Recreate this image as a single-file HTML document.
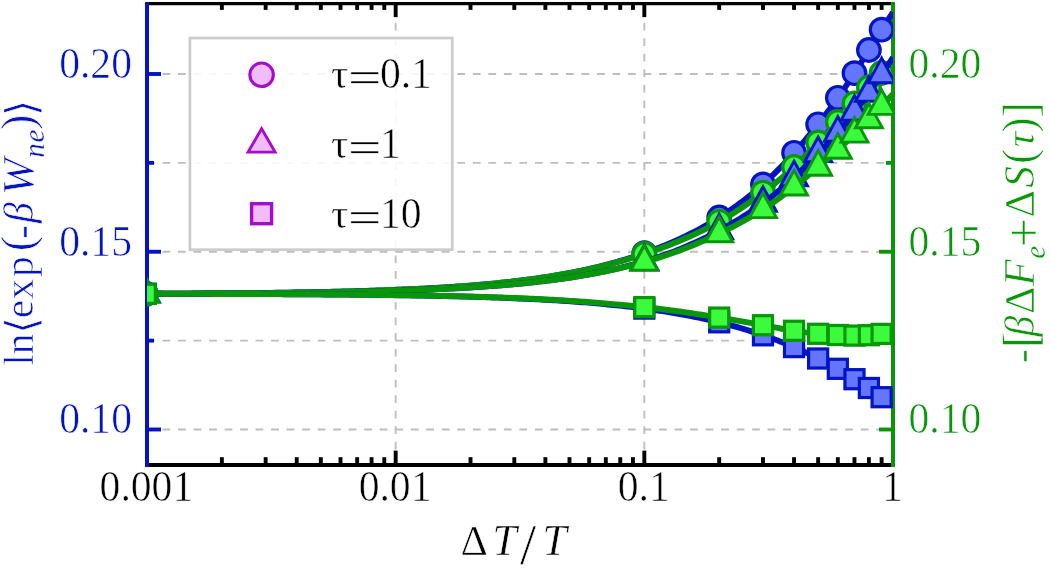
<!DOCTYPE html>
<html lang="en"><head><meta charset="utf-8"><title>Work relation vs temperature difference</title>
<style>html,body{margin:0;padding:0;background:#fff}svg{display:block}text{font-family:"Liberation Serif","DejaVu Serif",serif;stroke:#fff;stroke-width:0.6px}.s{stroke-width:0.3px}.i{font-style:italic}</style></head><body>
<svg width="1050" height="568" viewBox="0 0 1050 568">
<defs><clipPath id="ax"><rect x="147" y="3.6" width="746" height="461.4"/></clipPath></defs>
<rect width="1050" height="568" fill="#fff"/>
<g stroke="#bebebe" stroke-width="1.9" stroke-dasharray="7.75 7.766" fill="none">
<line x1="147" y1="429.5" x2="893" y2="429.5"/>
<line x1="147" y1="340.63" x2="893" y2="340.63"/>
<line x1="147" y1="251.75" x2="893" y2="251.75"/>
<line x1="147" y1="162.88" x2="893" y2="162.88"/>
<line x1="147" y1="74" x2="893" y2="74"/>
<line x1="395.67" y1="465" x2="395.67" y2="3.6"/>
<line x1="644.33" y1="465" x2="644.33" y2="3.6"/>
</g>
<g stroke="#000" fill="none">
<line x1="147" y1="3.6" x2="893" y2="3.6" stroke-width="3.4"/>
<line x1="147" y1="465" x2="893" y2="465" stroke-width="3.8"/>
<line x1="147" y1="3.6" x2="147" y2="17.1" stroke-width="3.9"/>
<line x1="147" y1="465" x2="147" y2="450.6" stroke-width="3.9"/>
<line x1="221.86" y1="3.6" x2="221.86" y2="9.9" stroke-width="3.9"/>
<line x1="221.86" y1="465" x2="221.86" y2="457.2" stroke-width="3.9"/>
<line x1="265.64" y1="3.6" x2="265.64" y2="9.9" stroke-width="3.9"/>
<line x1="265.64" y1="465" x2="265.64" y2="457.2" stroke-width="3.9"/>
<line x1="296.71" y1="3.6" x2="296.71" y2="9.9" stroke-width="3.9"/>
<line x1="296.71" y1="465" x2="296.71" y2="457.2" stroke-width="3.9"/>
<line x1="320.81" y1="3.6" x2="320.81" y2="9.9" stroke-width="3.9"/>
<line x1="320.81" y1="465" x2="320.81" y2="457.2" stroke-width="3.9"/>
<line x1="340.5" y1="3.6" x2="340.5" y2="9.9" stroke-width="3.9"/>
<line x1="340.5" y1="465" x2="340.5" y2="457.2" stroke-width="3.9"/>
<line x1="357.15" y1="3.6" x2="357.15" y2="9.9" stroke-width="3.9"/>
<line x1="357.15" y1="465" x2="357.15" y2="457.2" stroke-width="3.9"/>
<line x1="371.57" y1="3.6" x2="371.57" y2="9.9" stroke-width="3.9"/>
<line x1="371.57" y1="465" x2="371.57" y2="457.2" stroke-width="3.9"/>
<line x1="384.29" y1="3.6" x2="384.29" y2="9.9" stroke-width="3.9"/>
<line x1="384.29" y1="465" x2="384.29" y2="457.2" stroke-width="3.9"/>
<line x1="395.67" y1="3.6" x2="395.67" y2="17.1" stroke-width="3.9"/>
<line x1="395.67" y1="465" x2="395.67" y2="450.6" stroke-width="3.9"/>
<line x1="470.52" y1="3.6" x2="470.52" y2="9.9" stroke-width="3.9"/>
<line x1="470.52" y1="465" x2="470.52" y2="457.2" stroke-width="3.9"/>
<line x1="514.31" y1="3.6" x2="514.31" y2="9.9" stroke-width="3.9"/>
<line x1="514.31" y1="465" x2="514.31" y2="457.2" stroke-width="3.9"/>
<line x1="545.38" y1="3.6" x2="545.38" y2="9.9" stroke-width="3.9"/>
<line x1="545.38" y1="465" x2="545.38" y2="457.2" stroke-width="3.9"/>
<line x1="569.48" y1="3.6" x2="569.48" y2="9.9" stroke-width="3.9"/>
<line x1="569.48" y1="465" x2="569.48" y2="457.2" stroke-width="3.9"/>
<line x1="589.17" y1="3.6" x2="589.17" y2="9.9" stroke-width="3.9"/>
<line x1="589.17" y1="465" x2="589.17" y2="457.2" stroke-width="3.9"/>
<line x1="605.81" y1="3.6" x2="605.81" y2="9.9" stroke-width="3.9"/>
<line x1="605.81" y1="465" x2="605.81" y2="457.2" stroke-width="3.9"/>
<line x1="620.24" y1="3.6" x2="620.24" y2="9.9" stroke-width="3.9"/>
<line x1="620.24" y1="465" x2="620.24" y2="457.2" stroke-width="3.9"/>
<line x1="632.95" y1="3.6" x2="632.95" y2="9.9" stroke-width="3.9"/>
<line x1="632.95" y1="465" x2="632.95" y2="457.2" stroke-width="3.9"/>
<line x1="644.33" y1="3.6" x2="644.33" y2="17.1" stroke-width="3.9"/>
<line x1="644.33" y1="465" x2="644.33" y2="450.6" stroke-width="3.9"/>
<line x1="719.19" y1="3.6" x2="719.19" y2="9.9" stroke-width="3.9"/>
<line x1="719.19" y1="465" x2="719.19" y2="457.2" stroke-width="3.9"/>
<line x1="762.98" y1="3.6" x2="762.98" y2="9.9" stroke-width="3.9"/>
<line x1="762.98" y1="465" x2="762.98" y2="457.2" stroke-width="3.9"/>
<line x1="794.05" y1="3.6" x2="794.05" y2="9.9" stroke-width="3.9"/>
<line x1="794.05" y1="465" x2="794.05" y2="457.2" stroke-width="3.9"/>
<line x1="818.14" y1="3.6" x2="818.14" y2="9.9" stroke-width="3.9"/>
<line x1="818.14" y1="465" x2="818.14" y2="457.2" stroke-width="3.9"/>
<line x1="837.83" y1="3.6" x2="837.83" y2="9.9" stroke-width="3.9"/>
<line x1="837.83" y1="465" x2="837.83" y2="457.2" stroke-width="3.9"/>
<line x1="854.48" y1="3.6" x2="854.48" y2="9.9" stroke-width="3.9"/>
<line x1="854.48" y1="465" x2="854.48" y2="457.2" stroke-width="3.9"/>
<line x1="868.9" y1="3.6" x2="868.9" y2="9.9" stroke-width="3.9"/>
<line x1="868.9" y1="465" x2="868.9" y2="457.2" stroke-width="3.9"/>
<line x1="881.62" y1="3.6" x2="881.62" y2="9.9" stroke-width="3.9"/>
<line x1="881.62" y1="465" x2="881.62" y2="457.2" stroke-width="3.9"/>
<line x1="893" y1="3.6" x2="893" y2="17.1" stroke-width="3.9"/>
<line x1="893" y1="465" x2="893" y2="450.6" stroke-width="3.9"/>
</g>
<g stroke="#0414c2" fill="none">
<line x1="147" y1="1.9" x2="147" y2="466.9" stroke-width="4"/>
<line x1="147" y1="429.5" x2="161" y2="429.5" stroke-width="3.9"/>
<line x1="147" y1="251.75" x2="161" y2="251.75" stroke-width="3.9"/>
<line x1="147" y1="74" x2="161" y2="74" stroke-width="3.9"/>
<line x1="147" y1="340.63" x2="154" y2="340.63" stroke-width="3.9"/>
<line x1="147" y1="162.88" x2="154" y2="162.88" stroke-width="3.9"/>
</g>
<g stroke="#0a960a" fill="none">
<line x1="893" y1="429.5" x2="879" y2="429.5" stroke-width="3.9"/>
<line x1="893" y1="251.75" x2="879" y2="251.75" stroke-width="3.9"/>
<line x1="893" y1="74" x2="879" y2="74" stroke-width="3.9"/>
<line x1="893" y1="340.63" x2="886" y2="340.63" stroke-width="3.9"/>
<line x1="893" y1="162.88" x2="886" y2="162.88" stroke-width="3.9"/>
</g>
<line x1="893" y1="1.9" x2="893" y2="466.9" stroke="#0a960a" stroke-width="4"/>
<g clip-path="url(#ax)">
<path d="M145.8 293.8 L149.88 293.79 L152.76 293.78 L155.64 293.76 L158.52 293.75 L161.4 293.74 L164.28 293.72 L167.16 293.71 L170.04 293.7 L172.92 293.68 L175.8 293.67 L178.68 293.65 L181.56 293.64 L184.44 293.62 L187.32 293.6 L190.2 293.59 L193.08 293.57 L195.97 293.55 L198.85 293.53 L201.73 293.51 L204.61 293.49 L207.49 293.47 L210.37 293.45 L213.25 293.43 L216.13 293.41 L219.01 293.39 L221.89 293.36 L224.77 293.34 L227.65 293.32 L230.53 293.29 L233.41 293.27 L236.29 293.24 L239.17 293.21 L242.05 293.18 L244.93 293.16 L247.81 293.13 L250.69 293.1 L253.57 293.07 L256.45 293.03 L259.33 293 L262.21 292.97 L265.09 292.93 L267.97 292.9 L270.85 292.86 L273.73 292.83 L276.61 292.79 L279.49 292.75 L282.37 292.71 L285.25 292.67 L288.14 292.63 L291.02 292.58 L293.9 292.54 L296.78 292.49 L299.66 292.44 L302.54 292.4 L305.42 292.35 L308.3 292.3 L311.18 292.24 L314.06 292.19 L316.94 292.13 L319.82 292.08 L322.7 292.02 L325.58 291.96 L328.46 291.9 L331.34 291.84 L334.22 291.77 L337.1 291.7 L339.98 291.64 L342.86 291.57 L345.74 291.49 L348.62 291.42 L351.5 291.34 L354.38 291.27 L357.26 291.19 L360.14 291.1 L363.02 291.02 L365.9 290.93 L368.78 290.84 L371.66 290.75 L374.54 290.66 L377.42 290.56 L380.31 290.46 L383.19 290.36 L386.07 290.26 L388.95 290.15 L391.83 290.04 L394.71 289.93 L397.59 289.81 L400.47 289.7 L403.35 289.57 L406.23 289.45 L409.11 289.32 L411.99 289.19 L414.87 289.05 L417.75 288.91 L420.63 288.77 L423.51 288.62 L426.39 288.47 L429.27 288.32 L432.15 288.16 L435.03 288 L437.91 287.83 L440.79 287.66 L443.67 287.48 L446.55 287.3 L449.43 287.11 L452.31 286.92 L455.19 286.73 L458.07 286.53 L460.95 286.32 L463.83 286.11 L466.71 285.89 L469.59 285.67 L472.47 285.44 L475.36 285.21 L478.24 284.97 L481.12 284.72 L484 284.46 L486.88 284.2 L489.76 283.94 L492.64 283.66 L495.52 283.38 L498.4 283.09 L501.28 282.79 L504.16 282.49 L507.04 282.18 L509.92 281.86 L512.8 281.53 L515.68 281.19 L518.56 280.85 L521.44 280.49 L524.32 280.13 L527.2 279.75 L530.08 279.37 L532.96 278.98 L535.84 278.57 L538.72 278.16 L541.6 277.74 L544.48 277.3 L547.36 276.86 L550.24 276.4 L553.12 275.93 L556 275.45 L558.88 274.95 L561.76 274.45 L564.64 273.93 L567.53 273.4 L570.41 272.85 L573.29 272.29 L576.17 271.72 L579.05 271.13 L581.93 270.53 L584.81 269.91 L587.69 269.28 L590.57 268.63 L593.45 267.97 L596.33 267.28 L599.21 266.59 L602.09 265.87 L604.97 265.14 L607.85 264.39 L610.73 263.62 L613.61 262.84 L616.49 262.03 L619.37 261.21 L622.25 260.36 L625.13 259.5 L628.01 258.61 L630.89 257.71 L633.77 256.78 L636.65 255.84 L639.53 254.87 L642.41 253.87 L644.33 253.2 L645.29 252.86 L648.17 251.82 L651.05 250.76 L653.93 249.68 L656.81 248.57 L659.69 247.44 L662.58 246.29 L665.46 245.11 L668.34 243.9 L671.22 242.67 L674.1 241.41 L676.98 240.13 L679.86 238.81 L682.74 237.47 L685.62 236.09 L688.5 234.69 L691.38 233.25 L694.26 231.78 L697.14 230.28 L700.02 228.74 L702.9 227.16 L705.78 225.55 L708.66 223.9 L711.54 222.2 L714.42 220.47 L717.3 218.69 L719.19 217.5 L720.18 216.87 L723.06 215 L725.94 213.09 L728.82 211.15 L731.7 209.16 L734.58 207.12 L737.46 205.05 L740.34 202.92 L743.22 200.75 L746.1 198.52 L748.98 196.25 L751.86 193.92 L754.75 191.54 L757.63 189.1 L760.51 186.6 L762.98 184.4 L763.39 184.03 L766.27 181.4 L769.15 178.7 L772.03 175.93 L774.91 173.09 L777.79 170.19 L780.67 167.23 L783.55 164.21 L786.43 161.13 L789.31 158.01 L792.19 154.85 L794.05 152.8 L795.07 151.66 L797.95 148.43 L800.83 145.15 L803.71 141.82 L806.59 138.44 L809.47 135.01 L812.35 131.52 L815.23 127.97 L818.11 124.34 L818.14 124.3 L820.99 120.65 L823.87 116.89 L826.75 113.07 L829.63 109.19 L832.51 105.24 L835.39 101.24 L837.83 97.8 L838.27 97.17 L841.15 93.06 L844.03 88.88 L846.92 84.65 L849.8 80.35 L852.68 75.98 L854.48 73.2 L855.56 71.53 L858.44 66.97 L861.32 62.32 L864.2 57.63 L867.08 52.94 L868.9 50 L869.96 48.3 L872.84 43.67 L875.72 39.04 L878.6 34.45 L881.48 29.92 L881.62 29.7 L884.36 25.47 L887.24 21.06 L890.12 16.73 L893 12.5" fill="none" stroke="#0414c2" stroke-width="5.9" stroke-linejoin="round"/>
<circle cx="145.8" cy="293.8" r="11.3" fill="#6476ff" stroke="#0414c2" stroke-width="3.2"/>
<circle cx="644.33" cy="253.2" r="11.3" fill="#6476ff" stroke="#0414c2" stroke-width="3.2"/>
<circle cx="719.19" cy="217.5" r="11.3" fill="#6476ff" stroke="#0414c2" stroke-width="3.2"/>
<circle cx="762.98" cy="184.4" r="11.3" fill="#6476ff" stroke="#0414c2" stroke-width="3.2"/>
<circle cx="794.05" cy="152.8" r="11.3" fill="#6476ff" stroke="#0414c2" stroke-width="3.2"/>
<circle cx="818.14" cy="124.3" r="11.3" fill="#6476ff" stroke="#0414c2" stroke-width="3.2"/>
<circle cx="837.83" cy="97.8" r="11.3" fill="#6476ff" stroke="#0414c2" stroke-width="3.2"/>
<circle cx="854.48" cy="73.2" r="11.3" fill="#6476ff" stroke="#0414c2" stroke-width="3.2"/>
<circle cx="868.9" cy="50" r="11.3" fill="#6476ff" stroke="#0414c2" stroke-width="3.2"/>
<circle cx="881.62" cy="29.7" r="11.3" fill="#6476ff" stroke="#0414c2" stroke-width="3.2"/>
<path d="M145.8 293.8 L149.88 293.79 L152.76 293.78 L155.64 293.76 L158.52 293.75 L161.4 293.74 L164.28 293.72 L167.16 293.71 L170.04 293.7 L172.92 293.68 L175.8 293.67 L178.68 293.65 L181.56 293.63 L184.44 293.62 L187.32 293.6 L190.2 293.58 L193.08 293.57 L195.97 293.55 L198.85 293.53 L201.73 293.51 L204.61 293.49 L207.49 293.47 L210.37 293.45 L213.25 293.43 L216.13 293.4 L219.01 293.38 L221.89 293.36 L224.77 293.33 L227.65 293.31 L230.53 293.29 L233.41 293.26 L236.29 293.23 L239.17 293.21 L242.05 293.18 L244.93 293.15 L247.81 293.12 L250.69 293.09 L253.57 293.06 L256.45 293.03 L259.33 292.99 L262.21 292.96 L265.09 292.93 L267.97 292.89 L270.85 292.85 L273.73 292.82 L276.61 292.78 L279.49 292.74 L282.37 292.7 L285.25 292.66 L288.14 292.61 L291.02 292.57 L293.9 292.52 L296.78 292.48 L299.66 292.43 L302.54 292.38 L305.42 292.33 L308.3 292.28 L311.18 292.23 L314.06 292.17 L316.94 292.12 L319.82 292.06 L322.7 292 L325.58 291.94 L328.46 291.88 L331.34 291.82 L334.22 291.75 L337.1 291.68 L339.98 291.61 L342.86 291.54 L345.74 291.47 L348.62 291.4 L351.5 291.32 L354.38 291.24 L357.26 291.16 L360.14 291.08 L363.02 290.99 L365.9 290.91 L368.78 290.82 L371.66 290.72 L374.54 290.63 L377.42 290.53 L380.31 290.43 L383.19 290.33 L386.07 290.23 L388.95 290.12 L391.83 290.01 L394.71 289.9 L397.59 289.78 L400.47 289.66 L403.35 289.54 L406.23 289.41 L409.11 289.28 L411.99 289.15 L414.87 289.01 L417.75 288.87 L420.63 288.73 L423.51 288.58 L426.39 288.43 L429.27 288.27 L432.15 288.11 L435.03 287.95 L437.91 287.78 L440.79 287.61 L443.67 287.43 L446.55 287.25 L449.43 287.07 L452.31 286.88 L455.19 286.68 L458.07 286.48 L460.95 286.27 L463.83 286.06 L466.71 285.84 L469.59 285.62 L472.47 285.39 L475.36 285.15 L478.24 284.91 L481.12 284.67 L484 284.41 L486.88 284.15 L489.76 283.88 L492.64 283.61 L495.52 283.33 L498.4 283.04 L501.28 282.74 L504.16 282.44 L507.04 282.13 L509.92 281.81 L512.8 281.48 L515.68 281.15 L518.56 280.8 L521.44 280.45 L524.32 280.09 L527.2 279.72 L530.08 279.34 L532.96 278.95 L535.84 278.55 L538.72 278.14 L541.6 277.72 L544.48 277.29 L547.36 276.85 L550.24 276.39 L553.12 275.93 L556 275.45 L558.88 274.97 L561.76 274.47 L564.64 273.96 L567.53 273.44 L570.41 272.9 L573.29 272.35 L576.17 271.79 L579.05 271.21 L581.93 270.62 L584.81 270.02 L587.69 269.4 L590.57 268.77 L593.45 268.12 L596.33 267.46 L599.21 266.79 L602.09 266.09 L604.97 265.38 L607.85 264.66 L610.73 263.92 L613.61 263.16 L616.49 262.39 L619.37 261.6 L622.25 260.79 L625.13 259.96 L628.01 259.12 L630.89 258.26 L633.77 257.38 L636.65 256.48 L639.53 255.57 L642.41 254.63 L644.33 254 L645.29 253.68 L648.17 252.71 L651.05 251.72 L653.93 250.71 L656.81 249.69 L659.69 248.64 L662.58 247.58 L665.46 246.49 L668.34 245.39 L671.22 244.26 L674.1 243.11 L676.98 241.94 L679.86 240.75 L682.74 239.54 L685.62 238.3 L688.5 237.03 L691.38 235.74 L694.26 234.42 L697.14 233.08 L700.02 231.71 L702.9 230.3 L705.78 228.86 L708.66 227.39 L711.54 225.89 L714.42 224.34 L717.3 222.76 L719.19 221.7 L720.18 221.14 L723.06 219.47 L725.94 217.77 L728.82 216.03 L731.7 214.25 L734.58 212.44 L737.46 210.59 L740.34 208.7 L743.22 206.77 L746.1 204.81 L748.98 202.81 L751.86 200.77 L754.75 198.7 L757.63 196.6 L760.51 194.46 L762.98 192.6 L763.39 192.29 L766.27 190.1 L769.15 187.87 L772.03 185.62 L774.91 183.34 L777.79 181.02 L780.67 178.67 L783.55 176.26 L786.43 173.8 L789.31 171.29 L792.19 168.7 L794.05 167 L795.07 166.04 L797.95 163.29 L800.83 160.46 L803.71 157.56 L806.59 154.59 L809.47 151.59 L812.35 148.56 L815.23 145.53 L818.11 142.53 L818.14 142.5 L820.99 139.56 L823.87 136.6 L826.75 133.63 L829.63 130.65 L832.51 127.65 L835.39 124.61 L837.83 122 L838.27 121.52 L841.15 118.38 L844.03 115.19 L846.92 111.97 L849.8 108.74 L852.68 105.51 L854.48 103.5 L855.56 102.31 L858.44 99.12 L861.32 95.94 L864.2 92.75 L867.08 89.55 L868.9 87.5 L869.96 86.31 L872.84 83.04 L875.72 79.75 L878.6 76.46 L881.48 73.16 L881.62 73 L884.36 69.87 L887.24 66.57 L890.12 63.28 L893 60" fill="none" stroke="#0a960a" stroke-width="5.9" stroke-linejoin="round"/>
<circle cx="145.8" cy="293.8" r="11.3" fill="#3cfa3c" stroke="#0a960a" stroke-width="3.2"/>
<circle cx="644.33" cy="254" r="11.3" fill="#3cfa3c" stroke="#0a960a" stroke-width="3.2"/>
<circle cx="719.19" cy="221.7" r="11.3" fill="#3cfa3c" stroke="#0a960a" stroke-width="3.2"/>
<circle cx="762.98" cy="192.6" r="11.3" fill="#3cfa3c" stroke="#0a960a" stroke-width="3.2"/>
<circle cx="794.05" cy="167" r="11.3" fill="#3cfa3c" stroke="#0a960a" stroke-width="3.2"/>
<circle cx="818.14" cy="142.5" r="11.3" fill="#3cfa3c" stroke="#0a960a" stroke-width="3.2"/>
<circle cx="837.83" cy="122" r="11.3" fill="#3cfa3c" stroke="#0a960a" stroke-width="3.2"/>
<circle cx="854.48" cy="103.5" r="11.3" fill="#3cfa3c" stroke="#0a960a" stroke-width="3.2"/>
<circle cx="868.9" cy="87.5" r="11.3" fill="#3cfa3c" stroke="#0a960a" stroke-width="3.2"/>
<circle cx="881.62" cy="73" r="11.3" fill="#3cfa3c" stroke="#0a960a" stroke-width="3.2"/>
<path d="M145.8 293.8 L149.88 293.79 L152.76 293.78 L155.64 293.77 L158.52 293.76 L161.4 293.75 L164.28 293.74 L167.16 293.73 L170.04 293.72 L172.92 293.71 L175.8 293.7 L178.68 293.69 L181.56 293.67 L184.44 293.66 L187.32 293.65 L190.2 293.64 L193.08 293.62 L195.97 293.61 L198.85 293.59 L201.73 293.58 L204.61 293.56 L207.49 293.55 L210.37 293.53 L213.25 293.52 L216.13 293.5 L219.01 293.48 L221.89 293.47 L224.77 293.45 L227.65 293.43 L230.53 293.41 L233.41 293.39 L236.29 293.37 L239.17 293.35 L242.05 293.33 L244.93 293.31 L247.81 293.28 L250.69 293.26 L253.57 293.24 L256.45 293.21 L259.33 293.19 L262.21 293.16 L265.09 293.14 L267.97 293.11 L270.85 293.08 L273.73 293.05 L276.61 293.02 L279.49 292.99 L282.37 292.96 L285.25 292.93 L288.14 292.9 L291.02 292.86 L293.9 292.83 L296.78 292.8 L299.66 292.76 L302.54 292.72 L305.42 292.68 L308.3 292.64 L311.18 292.6 L314.06 292.56 L316.94 292.52 L319.82 292.48 L322.7 292.43 L325.58 292.39 L328.46 292.34 L331.34 292.29 L334.22 292.24 L337.1 292.19 L339.98 292.14 L342.86 292.08 L345.74 292.03 L348.62 291.97 L351.5 291.91 L354.38 291.85 L357.26 291.79 L360.14 291.73 L363.02 291.66 L365.9 291.6 L368.78 291.53 L371.66 291.46 L374.54 291.39 L377.42 291.31 L380.31 291.24 L383.19 291.16 L386.07 291.08 L388.95 290.99 L391.83 290.91 L394.71 290.82 L397.59 290.73 L400.47 290.64 L403.35 290.55 L406.23 290.45 L409.11 290.35 L411.99 290.25 L414.87 290.14 L417.75 290.04 L420.63 289.93 L423.51 289.81 L426.39 289.7 L429.27 289.58 L432.15 289.45 L435.03 289.33 L437.91 289.2 L440.79 289.07 L443.67 288.93 L446.55 288.79 L449.43 288.65 L452.31 288.5 L455.19 288.35 L458.07 288.19 L460.95 288.03 L463.83 287.87 L466.71 287.7 L469.59 287.53 L472.47 287.35 L475.36 287.16 L478.24 286.98 L481.12 286.79 L484 286.59 L486.88 286.38 L489.76 286.18 L492.64 285.96 L495.52 285.74 L498.4 285.52 L501.28 285.29 L504.16 285.05 L507.04 284.81 L509.92 284.56 L512.8 284.3 L515.68 284.03 L518.56 283.76 L521.44 283.49 L524.32 283.2 L527.2 282.91 L530.08 282.61 L532.96 282.3 L535.84 281.98 L538.72 281.66 L541.6 281.32 L544.48 280.98 L547.36 280.63 L550.24 280.27 L553.12 279.9 L556 279.51 L558.88 279.12 L561.76 278.72 L564.64 278.31 L567.53 277.89 L570.41 277.46 L573.29 277.01 L576.17 276.56 L579.05 276.09 L581.93 275.61 L584.81 275.11 L587.69 274.61 L590.57 274.09 L593.45 273.55 L596.33 273.01 L599.21 272.45 L602.09 271.87 L604.97 271.28 L607.85 270.67 L610.73 270.05 L613.61 269.42 L616.49 268.76 L619.37 268.09 L622.25 267.4 L625.13 266.69 L628.01 265.97 L630.89 265.23 L633.77 264.47 L636.65 263.68 L639.53 262.88 L642.41 262.06 L644.33 261.5 L645.29 261.22 L648.17 260.35 L651.05 259.46 L653.93 258.55 L656.81 257.61 L659.69 256.65 L662.58 255.66 L665.46 254.65 L668.34 253.6 L671.22 252.54 L674.1 251.44 L676.98 250.32 L679.86 249.17 L682.74 247.99 L685.62 246.79 L688.5 245.55 L691.38 244.29 L694.26 242.99 L697.14 241.67 L700.02 240.32 L702.9 238.94 L705.78 237.53 L708.66 236.09 L711.54 234.62 L714.42 233.13 L717.3 231.61 L719.19 230.6 L720.18 230.06 L723.06 228.49 L725.94 226.89 L728.82 225.26 L731.7 223.6 L734.58 221.91 L737.46 220.18 L740.34 218.42 L743.22 216.62 L746.1 214.79 L748.98 212.92 L751.86 211.01 L754.75 209.05 L757.63 207.05 L760.51 205 L762.98 203.2 L763.39 202.9 L766.27 200.75 L769.15 198.55 L772.03 196.3 L774.91 194.01 L777.79 191.66 L780.67 189.27 L783.55 186.83 L786.43 184.34 L789.31 181.79 L792.19 179.2 L794.05 177.5 L795.07 176.55 L797.95 173.83 L800.83 171.04 L803.71 168.19 L806.59 165.28 L809.47 162.34 L812.35 159.37 L815.23 156.39 L818.11 153.43 L818.14 153.4 L820.99 150.51 L823.87 147.61 L826.75 144.72 L829.63 141.81 L832.51 138.83 L835.39 135.74 L837.83 133 L838.27 132.49 L841.15 129.07 L844.03 125.51 L846.92 121.84 L849.8 118.1 L852.68 114.34 L854.48 112 L855.56 110.62 L858.44 106.92 L861.32 103.2 L864.2 99.45 L867.08 95.6 L868.9 93.1 L869.96 91.62 L872.84 87.5 L875.72 83.28 L878.6 79 L881.48 74.71 L881.62 74.5 L884.36 70.43 L887.24 66.14 L890.12 61.82 L893 57.5" fill="none" stroke="#0414c2" stroke-width="5.9" stroke-linejoin="round"/>
<polygon points="145.8,277.4 132.35,302 159.25,302" fill="#6476ff" stroke="#0414c2" stroke-width="2.9" stroke-linejoin="miter"/>
<polygon points="644.33,245.1 630.88,269.7 657.78,269.7" fill="#6476ff" stroke="#0414c2" stroke-width="2.9" stroke-linejoin="miter"/>
<polygon points="719.19,214.2 705.74,238.8 732.64,238.8" fill="#6476ff" stroke="#0414c2" stroke-width="2.9" stroke-linejoin="miter"/>
<polygon points="762.98,186.8 749.53,211.4 776.43,211.4" fill="#6476ff" stroke="#0414c2" stroke-width="2.9" stroke-linejoin="miter"/>
<polygon points="794.05,161.1 780.6,185.7 807.5,185.7" fill="#6476ff" stroke="#0414c2" stroke-width="2.9" stroke-linejoin="miter"/>
<polygon points="818.14,137 804.69,161.6 831.59,161.6" fill="#6476ff" stroke="#0414c2" stroke-width="2.9" stroke-linejoin="miter"/>
<polygon points="837.83,116.6 824.38,141.2 851.28,141.2" fill="#6476ff" stroke="#0414c2" stroke-width="2.9" stroke-linejoin="miter"/>
<polygon points="854.48,95.6 841.03,120.2 867.93,120.2" fill="#6476ff" stroke="#0414c2" stroke-width="2.9" stroke-linejoin="miter"/>
<polygon points="868.9,76.7 855.45,101.3 882.35,101.3" fill="#6476ff" stroke="#0414c2" stroke-width="2.9" stroke-linejoin="miter"/>
<polygon points="881.62,58.1 868.17,82.7 895.07,82.7" fill="#6476ff" stroke="#0414c2" stroke-width="2.9" stroke-linejoin="miter"/>
<path d="M145.8 293.8 L149.88 293.79 L152.76 293.78 L155.64 293.77 L158.52 293.76 L161.4 293.75 L164.28 293.74 L167.16 293.73 L170.04 293.72 L172.92 293.71 L175.8 293.7 L178.68 293.68 L181.56 293.67 L184.44 293.66 L187.32 293.65 L190.2 293.63 L193.08 293.62 L195.97 293.61 L198.85 293.59 L201.73 293.58 L204.61 293.56 L207.49 293.55 L210.37 293.53 L213.25 293.51 L216.13 293.5 L219.01 293.48 L221.89 293.46 L224.77 293.44 L227.65 293.42 L230.53 293.4 L233.41 293.38 L236.29 293.36 L239.17 293.34 L242.05 293.32 L244.93 293.3 L247.81 293.28 L250.69 293.25 L253.57 293.23 L256.45 293.21 L259.33 293.18 L262.21 293.15 L265.09 293.13 L267.97 293.1 L270.85 293.07 L273.73 293.04 L276.61 293.01 L279.49 292.98 L282.37 292.95 L285.25 292.92 L288.14 292.89 L291.02 292.85 L293.9 292.82 L296.78 292.78 L299.66 292.75 L302.54 292.71 L305.42 292.67 L308.3 292.63 L311.18 292.59 L314.06 292.55 L316.94 292.51 L319.82 292.46 L322.7 292.42 L325.58 292.37 L328.46 292.32 L331.34 292.27 L334.22 292.22 L337.1 292.17 L339.98 292.12 L342.86 292.06 L345.74 292.01 L348.62 291.95 L351.5 291.89 L354.38 291.83 L357.26 291.77 L360.14 291.7 L363.02 291.64 L365.9 291.57 L368.78 291.5 L371.66 291.43 L374.54 291.36 L377.42 291.28 L380.31 291.21 L383.19 291.13 L386.07 291.05 L388.95 290.96 L391.83 290.88 L394.71 290.79 L397.59 290.7 L400.47 290.61 L403.35 290.51 L406.23 290.42 L409.11 290.32 L411.99 290.21 L414.87 290.11 L417.75 290 L420.63 289.89 L423.51 289.77 L426.39 289.66 L429.27 289.54 L432.15 289.41 L435.03 289.29 L437.91 289.16 L440.79 289.02 L443.67 288.88 L446.55 288.74 L449.43 288.6 L452.31 288.45 L455.19 288.3 L458.07 288.14 L460.95 287.98 L463.83 287.82 L466.71 287.65 L469.59 287.47 L472.47 287.3 L475.36 287.11 L478.24 286.92 L481.12 286.73 L484 286.53 L486.88 286.33 L489.76 286.12 L492.64 285.91 L495.52 285.69 L498.4 285.46 L501.28 285.23 L504.16 285 L507.04 284.75 L509.92 284.5 L512.8 284.25 L515.68 283.98 L518.56 283.71 L521.44 283.44 L524.32 283.15 L527.2 282.86 L530.08 282.56 L532.96 282.25 L535.84 281.94 L538.72 281.62 L541.6 281.28 L544.48 280.94 L547.36 280.6 L550.24 280.24 L553.12 279.87 L556 279.49 L558.88 279.11 L561.76 278.71 L564.64 278.31 L567.53 277.89 L570.41 277.46 L573.29 277.02 L576.17 276.58 L579.05 276.11 L581.93 275.64 L584.81 275.16 L587.69 274.66 L590.57 274.15 L593.45 273.63 L596.33 273.1 L599.21 272.55 L602.09 271.99 L604.97 271.41 L607.85 270.83 L610.73 270.22 L613.61 269.6 L616.49 268.97 L619.37 268.32 L622.25 267.66 L625.13 266.97 L628.01 266.28 L630.89 265.56 L633.77 264.83 L636.65 264.08 L639.53 263.32 L642.41 262.53 L644.33 262 L645.29 261.73 L648.17 260.91 L651.05 260.06 L653.93 259.2 L656.81 258.32 L659.69 257.41 L662.58 256.48 L665.46 255.53 L668.34 254.56 L671.22 253.56 L674.1 252.54 L676.98 251.5 L679.86 250.43 L682.74 249.34 L685.62 248.23 L688.5 247.09 L691.38 245.93 L694.26 244.74 L697.14 243.53 L700.02 242.3 L702.9 241.04 L705.78 239.76 L708.66 238.45 L711.54 237.13 L714.42 235.78 L717.3 234.41 L719.19 233.5 L720.18 233.02 L723.06 231.61 L725.94 230.18 L728.82 228.73 L731.7 227.26 L734.58 225.77 L737.46 224.25 L740.34 222.71 L743.22 221.14 L746.1 219.54 L748.98 217.9 L751.86 216.23 L754.75 214.53 L757.63 212.78 L760.51 210.98 L762.98 209.4 L763.39 209.13 L766.27 207.24 L769.15 205.29 L772.03 203.29 L774.91 201.25 L777.79 199.17 L780.67 197.05 L783.55 194.89 L786.43 192.7 L789.31 190.49 L792.19 188.25 L794.05 186.8 L795.07 186 L797.95 183.72 L800.83 181.4 L803.71 179.06 L806.59 176.69 L809.47 174.3 L812.35 171.89 L815.23 169.46 L818.11 167.03 L818.14 167 L820.99 164.59 L823.87 162.16 L826.75 159.72 L829.63 157.25 L832.51 154.76 L835.39 152.21 L837.83 150 L838.27 149.59 L841.15 146.9 L844.03 144.15 L846.92 141.35 L849.8 138.52 L852.68 135.68 L854.48 133.9 L855.56 132.85 L858.44 130.02 L861.32 127.19 L864.2 124.34 L867.08 121.46 L868.9 119.6 L869.96 118.51 L872.84 115.52 L875.72 112.48 L878.6 109.42 L881.48 106.35 L881.62 106.2 L884.36 103.28 L887.24 100.19 L890.12 97.1 L893 94" fill="none" stroke="#0a960a" stroke-width="5.9" stroke-linejoin="round"/>
<polygon points="145.8,277.4 132.35,302 159.25,302" fill="#3cfa3c" stroke="#0a960a" stroke-width="2.9" stroke-linejoin="miter"/>
<polygon points="644.33,245.6 630.88,270.2 657.78,270.2" fill="#3cfa3c" stroke="#0a960a" stroke-width="2.9" stroke-linejoin="miter"/>
<polygon points="719.19,217.1 705.74,241.7 732.64,241.7" fill="#3cfa3c" stroke="#0a960a" stroke-width="2.9" stroke-linejoin="miter"/>
<polygon points="762.98,193 749.53,217.6 776.43,217.6" fill="#3cfa3c" stroke="#0a960a" stroke-width="2.9" stroke-linejoin="miter"/>
<polygon points="794.05,170.4 780.6,195 807.5,195" fill="#3cfa3c" stroke="#0a960a" stroke-width="2.9" stroke-linejoin="miter"/>
<polygon points="818.14,150.6 804.69,175.2 831.59,175.2" fill="#3cfa3c" stroke="#0a960a" stroke-width="2.9" stroke-linejoin="miter"/>
<polygon points="837.83,133.6 824.38,158.2 851.28,158.2" fill="#3cfa3c" stroke="#0a960a" stroke-width="2.9" stroke-linejoin="miter"/>
<polygon points="854.48,117.5 841.03,142.1 867.93,142.1" fill="#3cfa3c" stroke="#0a960a" stroke-width="2.9" stroke-linejoin="miter"/>
<polygon points="868.9,103.2 855.45,127.8 882.35,127.8" fill="#3cfa3c" stroke="#0a960a" stroke-width="2.9" stroke-linejoin="miter"/>
<polygon points="881.62,89.8 868.17,114.4 895.07,114.4" fill="#3cfa3c" stroke="#0a960a" stroke-width="2.9" stroke-linejoin="miter"/>
<path d="M145.8 293.8 L149.88 293.8 L152.76 293.81 L155.64 293.81 L158.52 293.82 L161.4 293.82 L164.28 293.83 L167.16 293.83 L170.04 293.84 L172.92 293.84 L175.8 293.85 L178.68 293.85 L181.56 293.86 L184.44 293.86 L187.32 293.87 L190.2 293.88 L193.08 293.88 L195.97 293.89 L198.85 293.9 L201.73 293.9 L204.61 293.91 L207.49 293.92 L210.37 293.92 L213.25 293.93 L216.13 293.94 L219.01 293.95 L221.89 293.96 L224.77 293.96 L227.65 293.97 L230.53 293.98 L233.41 293.99 L236.29 294 L239.17 294.01 L242.05 294.02 L244.93 294.03 L247.81 294.04 L250.69 294.05 L253.57 294.06 L256.45 294.07 L259.33 294.08 L262.21 294.1 L265.09 294.11 L267.97 294.12 L270.85 294.13 L273.73 294.15 L276.61 294.16 L279.49 294.17 L282.37 294.19 L285.25 294.2 L288.14 294.22 L291.02 294.23 L293.9 294.25 L296.78 294.27 L299.66 294.28 L302.54 294.3 L305.42 294.32 L308.3 294.34 L311.18 294.36 L314.06 294.37 L316.94 294.39 L319.82 294.41 L322.7 294.44 L325.58 294.46 L328.46 294.48 L331.34 294.5 L334.22 294.52 L337.1 294.55 L339.98 294.57 L342.86 294.6 L345.74 294.62 L348.62 294.65 L351.5 294.68 L354.38 294.7 L357.26 294.73 L360.14 294.76 L363.02 294.79 L365.9 294.82 L368.78 294.86 L371.66 294.89 L374.54 294.92 L377.42 294.96 L380.31 294.99 L383.19 295.03 L386.07 295.06 L388.95 295.1 L391.83 295.14 L394.71 295.18 L397.59 295.22 L400.47 295.27 L403.35 295.31 L406.23 295.36 L409.11 295.4 L411.99 295.45 L414.87 295.5 L417.75 295.55 L420.63 295.6 L423.51 295.65 L426.39 295.7 L429.27 295.76 L432.15 295.82 L435.03 295.88 L437.91 295.94 L440.79 296 L443.67 296.06 L446.55 296.13 L449.43 296.19 L452.31 296.26 L455.19 296.33 L458.07 296.4 L460.95 296.48 L463.83 296.55 L466.71 296.63 L469.59 296.71 L472.47 296.79 L475.36 296.88 L478.24 296.96 L481.12 297.05 L484 297.14 L486.88 297.24 L489.76 297.33 L492.64 297.43 L495.52 297.53 L498.4 297.64 L501.28 297.74 L504.16 297.85 L507.04 297.97 L509.92 298.08 L512.8 298.2 L515.68 298.32 L518.56 298.45 L521.44 298.58 L524.32 298.71 L527.2 298.84 L530.08 298.98 L532.96 299.12 L535.84 299.27 L538.72 299.42 L541.6 299.57 L544.48 299.73 L547.36 299.89 L550.24 300.06 L553.12 300.23 L556 300.4 L558.88 300.58 L561.76 300.77 L564.64 300.95 L567.53 301.15 L570.41 301.35 L573.29 301.55 L576.17 301.76 L579.05 301.97 L581.93 302.19 L584.81 302.42 L587.69 302.65 L590.57 302.89 L593.45 303.13 L596.33 303.38 L599.21 303.64 L602.09 303.9 L604.97 304.17 L607.85 304.45 L610.73 304.73 L613.61 305.02 L616.49 305.32 L619.37 305.62 L622.25 305.93 L625.13 306.25 L628.01 306.58 L630.89 306.92 L633.77 307.26 L636.65 307.62 L639.53 307.98 L642.41 308.35 L644.33 308.6 L645.29 308.73 L648.17 309.12 L651.05 309.51 L653.93 309.92 L656.81 310.34 L659.69 310.77 L662.58 311.2 L665.46 311.65 L668.34 312.11 L671.22 312.58 L674.1 313.06 L676.98 313.55 L679.86 314.06 L682.74 314.57 L685.62 315.1 L688.5 315.64 L691.38 316.2 L694.26 316.76 L697.14 317.34 L700.02 317.94 L702.9 318.55 L705.78 319.17 L708.66 319.82 L711.54 320.47 L714.42 321.15 L717.3 321.84 L719.19 322.3 L720.18 322.55 L723.06 323.27 L725.94 324.02 L728.82 324.79 L731.7 325.57 L734.58 326.37 L737.46 327.2 L740.34 328.04 L743.22 328.9 L746.1 329.78 L748.98 330.68 L751.86 331.6 L754.75 332.53 L757.63 333.49 L760.51 334.46 L762.98 335.3 L763.39 335.44 L766.27 336.44 L769.15 337.45 L772.03 338.49 L774.91 339.54 L777.79 340.6 L780.67 341.69 L783.55 342.81 L786.43 343.95 L789.31 345.11 L792.19 346.31 L794.05 347.1 L795.07 347.54 L797.95 348.81 L800.83 350.11 L803.71 351.45 L806.59 352.81 L809.47 354.2 L812.35 355.62 L815.23 357.04 L818.11 358.48 L818.14 358.5 L820.99 359.93 L823.87 361.38 L826.75 362.84 L829.63 364.33 L832.51 365.85 L835.39 367.42 L837.83 368.8 L838.27 369.05 L841.15 370.77 L844.03 372.55 L846.92 374.38 L849.8 376.23 L852.68 378.07 L854.48 379.2 L855.56 379.86 L858.44 381.59 L861.32 383.3 L864.2 385.03 L867.08 386.81 L868.9 388 L869.96 388.71 L872.84 390.73 L875.72 392.83 L878.6 394.97 L881.48 397.1 L881.62 397.2 L884.36 399.19 L887.24 401.3 L890.12 403.4 L893 405.5" fill="none" stroke="#0414c2" stroke-width="5.9" stroke-linejoin="round"/>
<rect x="136.25" y="284.25" width="19.1" height="19.1" fill="#6476ff" stroke="#0414c2" stroke-width="3.2"/>
<rect x="634.78" y="299.05" width="19.1" height="19.1" fill="#6476ff" stroke="#0414c2" stroke-width="3.2"/>
<rect x="709.64" y="312.75" width="19.1" height="19.1" fill="#6476ff" stroke="#0414c2" stroke-width="3.2"/>
<rect x="753.43" y="325.75" width="19.1" height="19.1" fill="#6476ff" stroke="#0414c2" stroke-width="3.2"/>
<rect x="784.5" y="337.55" width="19.1" height="19.1" fill="#6476ff" stroke="#0414c2" stroke-width="3.2"/>
<rect x="808.59" y="348.95" width="19.1" height="19.1" fill="#6476ff" stroke="#0414c2" stroke-width="3.2"/>
<rect x="828.28" y="359.25" width="19.1" height="19.1" fill="#6476ff" stroke="#0414c2" stroke-width="3.2"/>
<rect x="844.93" y="369.65" width="19.1" height="19.1" fill="#6476ff" stroke="#0414c2" stroke-width="3.2"/>
<rect x="859.35" y="378.45" width="19.1" height="19.1" fill="#6476ff" stroke="#0414c2" stroke-width="3.2"/>
<rect x="872.07" y="387.65" width="19.1" height="19.1" fill="#6476ff" stroke="#0414c2" stroke-width="3.2"/>
<path d="M145.8 293.8 L149.88 293.8 L152.76 293.81 L155.64 293.81 L158.52 293.82 L161.4 293.82 L164.28 293.83 L167.16 293.83 L170.04 293.84 L172.92 293.84 L175.8 293.85 L178.68 293.85 L181.56 293.86 L184.44 293.86 L187.32 293.87 L190.2 293.87 L193.08 293.88 L195.97 293.89 L198.85 293.89 L201.73 293.9 L204.61 293.9 L207.49 293.91 L210.37 293.92 L213.25 293.93 L216.13 293.93 L219.01 293.94 L221.89 293.95 L224.77 293.96 L227.65 293.97 L230.53 293.97 L233.41 293.98 L236.29 293.99 L239.17 294 L242.05 294.01 L244.93 294.02 L247.81 294.03 L250.69 294.04 L253.57 294.05 L256.45 294.06 L259.33 294.07 L262.21 294.08 L265.09 294.1 L267.97 294.11 L270.85 294.12 L273.73 294.13 L276.61 294.14 L279.49 294.16 L282.37 294.17 L285.25 294.19 L288.14 294.2 L291.02 294.22 L293.9 294.23 L296.78 294.25 L299.66 294.26 L302.54 294.28 L305.42 294.3 L308.3 294.31 L311.18 294.33 L314.06 294.35 L316.94 294.37 L319.82 294.39 L322.7 294.41 L325.58 294.43 L328.46 294.45 L331.34 294.47 L334.22 294.49 L337.1 294.51 L339.98 294.54 L342.86 294.56 L345.74 294.59 L348.62 294.61 L351.5 294.64 L354.38 294.66 L357.26 294.69 L360.14 294.72 L363.02 294.75 L365.9 294.78 L368.78 294.81 L371.66 294.84 L374.54 294.87 L377.42 294.9 L380.31 294.94 L383.19 294.97 L386.07 295.01 L388.95 295.04 L391.83 295.08 L394.71 295.12 L397.59 295.16 L400.47 295.2 L403.35 295.24 L406.23 295.28 L409.11 295.32 L411.99 295.37 L414.87 295.41 L417.75 295.46 L420.63 295.51 L423.51 295.56 L426.39 295.61 L429.27 295.66 L432.15 295.72 L435.03 295.77 L437.91 295.83 L440.79 295.89 L443.67 295.95 L446.55 296.01 L449.43 296.07 L452.31 296.13 L455.19 296.2 L458.07 296.27 L460.95 296.34 L463.83 296.41 L466.71 296.48 L469.59 296.56 L472.47 296.63 L475.36 296.71 L478.24 296.79 L481.12 296.88 L484 296.96 L486.88 297.05 L489.76 297.14 L492.64 297.23 L495.52 297.33 L498.4 297.42 L501.28 297.52 L504.16 297.63 L507.04 297.73 L509.92 297.84 L512.8 297.95 L515.68 298.06 L518.56 298.18 L521.44 298.29 L524.32 298.42 L527.2 298.54 L530.08 298.67 L532.96 298.8 L535.84 298.93 L538.72 299.07 L541.6 299.21 L544.48 299.36 L547.36 299.5 L550.24 299.66 L553.12 299.81 L556 299.97 L558.88 300.13 L561.76 300.3 L564.64 300.47 L567.53 300.65 L570.41 300.82 L573.29 301.01 L576.17 301.2 L579.05 301.39 L581.93 301.59 L584.81 301.79 L587.69 301.99 L590.57 302.2 L593.45 302.42 L596.33 302.64 L599.21 302.87 L602.09 303.1 L604.97 303.33 L607.85 303.57 L610.73 303.82 L613.61 304.07 L616.49 304.33 L619.37 304.59 L622.25 304.86 L625.13 305.13 L628.01 305.41 L630.89 305.7 L633.77 305.99 L636.65 306.28 L639.53 306.58 L642.41 306.89 L644.33 307.1 L645.29 307.21 L648.17 307.53 L651.05 307.85 L653.93 308.19 L656.81 308.53 L659.69 308.88 L662.58 309.24 L665.46 309.6 L668.34 309.97 L671.22 310.35 L674.1 310.74 L676.98 311.13 L679.86 311.53 L682.74 311.94 L685.62 312.36 L688.5 312.78 L691.38 313.21 L694.26 313.64 L697.14 314.08 L700.02 314.53 L702.9 314.98 L705.78 315.43 L708.66 315.89 L711.54 316.36 L714.42 316.82 L717.3 317.29 L719.19 317.6 L720.18 317.76 L723.06 318.24 L725.94 318.72 L728.82 319.2 L731.7 319.69 L734.58 320.18 L737.46 320.68 L740.34 321.18 L743.22 321.68 L746.1 322.19 L748.98 322.7 L751.86 323.21 L754.75 323.73 L757.63 324.24 L760.51 324.76 L762.98 325.2 L763.39 325.27 L766.27 325.8 L769.15 326.33 L772.03 326.88 L774.91 327.42 L777.79 327.97 L780.67 328.51 L783.55 329.05 L786.43 329.56 L789.31 330.06 L792.19 330.52 L794.05 330.8 L795.07 330.95 L797.95 331.36 L800.83 331.77 L803.71 332.17 L806.59 332.55 L809.47 332.91 L812.35 333.25 L815.23 333.54 L818.11 333.8 L818.14 333.8 L820.99 334.02 L823.87 334.22 L826.75 334.41 L829.63 334.58 L832.51 334.74 L835.39 334.89 L837.83 335 L838.27 335.02 L841.15 335.15 L844.03 335.29 L846.92 335.42 L849.8 335.52 L852.68 335.59 L854.48 335.6 L855.56 335.6 L858.44 335.56 L861.32 335.49 L864.2 335.4 L867.08 335.28 L868.9 335.2 L869.96 335.15 L872.84 334.93 L875.72 334.64 L878.6 334.29 L881.48 333.92 L881.62 333.9 L884.36 333.52 L887.24 333.07 L890.12 332.56 L893 332" fill="none" stroke="#0a960a" stroke-width="5.9" stroke-linejoin="round"/>
<rect x="136.25" y="284.25" width="19.1" height="19.1" fill="#3cfa3c" stroke="#0a960a" stroke-width="3.2"/>
<rect x="634.78" y="297.55" width="19.1" height="19.1" fill="#3cfa3c" stroke="#0a960a" stroke-width="3.2"/>
<rect x="709.64" y="308.05" width="19.1" height="19.1" fill="#3cfa3c" stroke="#0a960a" stroke-width="3.2"/>
<rect x="753.43" y="315.65" width="19.1" height="19.1" fill="#3cfa3c" stroke="#0a960a" stroke-width="3.2"/>
<rect x="784.5" y="321.25" width="19.1" height="19.1" fill="#3cfa3c" stroke="#0a960a" stroke-width="3.2"/>
<rect x="808.59" y="324.25" width="19.1" height="19.1" fill="#3cfa3c" stroke="#0a960a" stroke-width="3.2"/>
<rect x="828.28" y="325.45" width="19.1" height="19.1" fill="#3cfa3c" stroke="#0a960a" stroke-width="3.2"/>
<rect x="844.93" y="326.05" width="19.1" height="19.1" fill="#3cfa3c" stroke="#0a960a" stroke-width="3.2"/>
<rect x="859.35" y="325.65" width="19.1" height="19.1" fill="#3cfa3c" stroke="#0a960a" stroke-width="3.2"/>
<rect x="872.07" y="324.35" width="19.1" height="19.1" fill="#3cfa3c" stroke="#0a960a" stroke-width="3.2"/>
</g>
<text transform="translate(146.4 500.8) scale(0.942 1)" font-size="44.2" text-anchor="middle" fill="#000">0.001</text>
<text transform="translate(395.07 500.8) scale(0.942 1)" font-size="44.2" text-anchor="middle" fill="#000">0.01</text>
<text transform="translate(643.73 500.8) scale(0.942 1)" font-size="44.2" text-anchor="middle" fill="#000">0.1</text>
<text transform="translate(892.4 500.8) scale(0.942 1)" font-size="44.2" text-anchor="middle" fill="#000">1</text>
<text transform="translate(132 77.8) scale(0.942 1)" font-size="44.2" text-anchor="end" fill="#0414c2">0.20</text>
<text transform="translate(908.5 77.8) scale(0.942 1)" font-size="44.2" fill="#0a960a">0.20</text>
<text transform="translate(132 255.55) scale(0.942 1)" font-size="44.2" text-anchor="end" fill="#0414c2">0.15</text>
<text transform="translate(908.5 255.55) scale(0.942 1)" font-size="44.2" fill="#0a960a">0.15</text>
<text transform="translate(132 433.3) scale(0.942 1)" font-size="44.2" text-anchor="end" fill="#0414c2">0.10</text>
<text transform="translate(908.5 433.3) scale(0.942 1)" font-size="44.2" fill="#0a960a">0.10</text>
<text transform="translate(0 555.1)" fill="#000"><tspan font-size="42.5" x="460.5" y="0">&#916;</tspan><tspan font-size="44" class="i" x="492.14" y="0">T</tspan><tspan font-size="58" x="520" y="8.9">/</tspan><tspan font-size="44" class="i" x="542.14" y="0">T</tspan></text>
<text transform="translate(33.3 365) rotate(-90)" fill="#0414c2"><tspan font-size="41.5" x="-0.83 10.67" y="0 0">ln</tspan></text><text transform="translate(33.3 365) rotate(-90)" fill="#0414c2" style='font-family:"DejaVu Sans","DejaVu Serif",sans-serif'><tspan font-size="42.7" x="31.36" y="2.2">&#10216;</tspan></text><text transform="translate(33.3 365) rotate(-90)" fill="#0414c2"><tspan font-size="41.5" x="46.74 65.48 88.08" y="0 0 0">exp</tspan><tspan font-size="45.5" x="113.75" y="0">(</tspan><tspan font-size="41.5" x="126.35" y="1.2">-</tspan><tspan font-size="42" class="i" x="141.93" y="0">&#946;</tspan><tspan font-size="44" class="i" x="169.94" y="0">W</tspan><tspan font-size="29" class="i s" x="207.39 222.63" y="11 11">ne</tspan><tspan font-size="45.5" x="235.33" y="0">)</tspan></text><text transform="translate(33.3 365) rotate(-90)" fill="#0414c2" style='font-family:"DejaVu Sans","DejaVu Serif",sans-serif'><tspan font-size="42.7" x="248.68" y="2.2">&#10217;</tspan></text>
<text transform="translate(1033.8 361.6) rotate(-90)" fill="#0a960a"><tspan font-size="41.5" x="-1.45" y="1.2">-</tspan><tspan font-size="48" x="13.6" y="2.5">[</tspan><tspan font-size="42" class="i" x="25.23" y="0">&#946;</tspan><tspan font-size="42.5" x="47.6" y="0">&#916;</tspan><tspan font-size="43.5" class="i" x="75.62" y="0">F</tspan><tspan font-size="29" class="i s" x="102.83" y="11">e</tspan><tspan font-size="52" x="114.2" y="6.9">+</tspan><tspan font-size="42.5" x="144.2" y="0">&#916;</tspan><tspan font-size="43.5" class="i" x="173.76" y="0">S</tspan><tspan font-size="45.5" x="197.55" y="0">(</tspan><tspan font-size="43" class="i" x="214.33" y="0">&#964;</tspan><tspan font-size="45.5" x="229.13" y="0">)</tspan><tspan font-size="48" x="243.82" y="2.5">]</tspan></text>
<rect x="189.9" y="38" width="262.4" height="211.7" fill="#fff" fill-opacity="0.88" stroke="#cccccc" stroke-width="2.7"/>
<circle cx="261.6" cy="74.8" r="11.75" fill="#f1bcfc" stroke="#a60ccc" stroke-width="3.1"/>
<text fill="#000"><tspan font-size="43" x="331.04" y="88.3">&#964;</tspan><tspan font-size="44" x="347.69" y="92" textLength="34" lengthAdjust="spacingAndGlyphs">=</tspan><tspan font-size="44.2" x="379.9" y="88.3" textLength="52.05" lengthAdjust="spacingAndGlyphs">0.1</tspan></text>
<polygon points="261.6,128.74 248.13,152.08 275.08,152.08" fill="#f1bcfc" stroke="#a60ccc" stroke-width="2.9" stroke-linejoin="miter"/>
<text fill="#000"><tspan font-size="43" x="331.04" y="158.1">&#964;</tspan><tspan font-size="44" x="347.69" y="161.8" textLength="34" lengthAdjust="spacingAndGlyphs">=</tspan><tspan font-size="44.2" x="379.9" y="158.1" textLength="20.82" lengthAdjust="spacingAndGlyphs">1</tspan></text>
<rect x="251.6" y="203.7" width="20" height="20" fill="#f1bcfc" stroke="#a60ccc" stroke-width="3.4"/>
<text fill="#000"><tspan font-size="43" x="331.04" y="227.9">&#964;</tspan><tspan font-size="44" x="347.69" y="231.6" textLength="34" lengthAdjust="spacingAndGlyphs">=</tspan><tspan font-size="44.2" x="379.9" y="227.9" textLength="41.64" lengthAdjust="spacingAndGlyphs">10</tspan></text>
</svg></body></html>
